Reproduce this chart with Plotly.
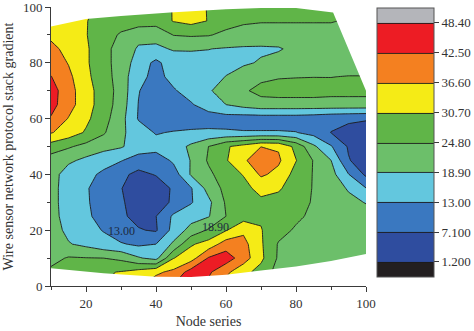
import plotly.graph_objects as go

# ---------------- data ----------------
node_series = [10, 15, 20, 25, 30, 35, 40, 45, 50, 55, 60, 65, 70, 75, 80, 85, 90, 95, 100]
stack_gradient = [0, 5, 10, 15, 20, 25, 30, 35, 40, 45, 50, 55, 60, 65, 70, 75, 80, 85, 90, 95, 100]

z_y0   = [27, 28, 29.5, 31, 33, 36, 40, 43, 47, 41, 34, 30, 25, 22.5, 22, 22, 22, 21.5, 21.5]
z_y5   = [26, 27, 28.5, 30, 31, 33, 35.5, 38, 45, 43.5, 38, 32.5, 28.5, 22.5, 22.5, 22, 22, 21.5, 21.5]
z_y10  = [23, 25.3, 25, 24.8, 23.5, 19.5, 17, 30.5, 34, 43, 45.5, 39.5, 32, 24, 23, 22.5, 22, 21.5, 21.5]
z_y15  = [22, 19.3, 17.5, 15, 13.5, 12, 13, 20, 30, 33, 39.5, 38.5, 31.5, 24.3, 23, 22.5, 22, 21.5, 21]
z_y20  = [21.5, 17.5, 15, 12.7, 9.5, 7.5, 6.5, 15, 21, 25.5, 30.3, 35.5, 31, 27, 24, 22.5, 21.5, 21, 20.5]
z_y25  = [21, 16.5, 14, 11, 8, 5.5, 7, 14, 16.5, 18.5, 24.8, 28, 30, 28, 26, 23.5, 22, 21.5, 20.5]
z_y30  = [21, 16, 13.8, 10, 7.8, 4.5, 4.5, 8, 12.5, 17.5, 25.5, 28.5, 29.5, 28.5, 27, 24.3, 21.5, 20, 18.7]
z_y35  = [21, 16, 13.5, 10.5, 7.3, 4, 3.5, 8, 12.5, 21, 26.5, 29, 32.5, 31.5, 27.5, 24.5, 21, 18.5, 13.2]
z_y40  = [21.5, 16, 14.5, 12, 8.5, 5.5, 7.5, 10, 19.5, 23.5, 28, 31, 37.5, 35, 28.5, 24.5, 21, 13.2, 6]
z_y45  = [22, 20, 17.5, 15, 13.3, 10.5, 9.5, 14, 19.2, 25.5, 30.2, 35.5, 41, 37.5, 30.9, 24.5, 19, 7.5, 4]
z_y50  = [28, 25.5, 23, 21, 19.5, 16, 15.5, 16, 20, 24.8, 30, 33, 36.5, 36, 29, 20, 13.5, 6.5, 3.5]
z_y55  = [37, 34, 30, 25.5, 20, 16, 12.5, 13.5, 14, 14, 13.8, 13.5, 13.5, 13.5, 13.2, 11, 7, 5.5, 4.5]
z_y60  = [42, 36.3, 32, 27, 21, 12.5, 8, 8.5, 9.5, 10.5, 10.5, 10, 10, 10, 10, 9.5, 8.5, 8, 7.6]
z_y65  = [44.5, 39, 33, 28, 22, 12.8, 9, 10, 12.5, 15.5, 18.9, 21, 22.5, 22.5, 22.5, 22.5, 22.5, 22.5, 22.5]
z_y70  = [45, 39, 33, 28, 22.5, 13.3, 9.5, 12.5, 15, 18.5, 20.5, 24, 26.5, 27, 27, 27, 26.5, 26.5, 26.5]
z_y75  = [42.7, 38, 32, 27.5, 22, 14.5, 11.5, 14.5, 16, 17.5, 19, 21, 23.5, 24.4, 24.6, 24.7, 24.7, 25, 25]
z_y80  = [40, 36.3, 31.5, 27, 22, 16.5, 11.5, 16.5, 17, 17.5, 17.8, 18.3, 19.3, 20.5, 22, 22, 22, 22, 22]
z_y85  = [38, 35, 31.5, 27, 22, 18.3, 18, 19.3, 19.3, 19, 18.5, 18.4, 18.3, 18.5, 20, 21, 21.5, 21.5, 21.5]
z_y90  = [35.5, 33, 31, 27, 24.2, 20.5, 20.5, 25, 25.5, 25.2, 23.5, 21.5, 21.5, 21.5, 21.5, 21.5, 21.5, 21.5, 21.5]
z_y95  = [34, 33, 31, 28, 27, 28, 27.5, 31, 32.5, 30.5, 27, 26, 25.3, 25.3, 25.3, 25.3, 25.3, 24, 23]
z_y100 = [36, 35, 32, 29, 28, 28, 28, 31, 32, 30.5, 28, 27, 27, 27, 27, 27, 27, 26, 25]

z_rows = [z_y0, z_y5, z_y10, z_y15, z_y20, z_y25, z_y30, z_y35, z_y40, z_y45, z_y50,
          z_y55, z_y60, z_y65, z_y70, z_y75, z_y80, z_y85, z_y90, z_y95, z_y100]

# boundary of the sampled region (outside is blank)
top_edge_x = [10, 20, 30, 44, 60, 70, 80, 90.6, 100]
top_edge_y = [93, 95.7, 96.8, 98, 99.2, 99.6, 99.6, 98, 70]
bottom_edge_x = [10, 25, 40, 50, 60, 70, 80, 90, 100]
bottom_edge_y = [6.4, 4.6, 3.3, 3.2, 4.0, 5.6, 7.0, 9.0, 11.5]

level_start, level_end, level_step = 1.2, 48.4, 5.9
level_ticks = [1.2, 7.1, 13.0, 18.9, 24.8, 30.7, 36.6, 42.5, 48.4]
level_labels = ["1.200", "7.100", "13.00", "18.90", "24.80", "30.70", "36.60", "42.50", "48.40"]

band_colors = ["#231f20", "#2f4d9f", "#3a78c0", "#63c7de", "#6cbf6a",
               "#60b548", "#f5eb16", "#f48020", "#ed1c24", "#b4b5ba"]

label_x = [30.1, 57.1]
label_y = [19.8, 21.3]
label_text = ["13.00", "18.90"]

# ---------------- figure ----------------
font_family = "Liberation Serif"
axis_color = "#3a3a3a"

colorscale = [[i / (len(band_colors) - 1), c] for i, c in enumerate(band_colors)]

fig = go.Figure()
fig.add_trace(go.Contour(
    x=node_series, y=stack_gradient, z=z_rows,
    contours=dict(start=level_start, end=level_end, size=level_step,
                  coloring="fill", showlines=True),
    line=dict(color="#1c1c1c", width=0.9, smoothing=0),
    colorscale=colorscale,
    hoverinfo="skip",
    colorbar=dict(
        tickvals=level_ticks, ticktext=level_labels,
        ticks="outside", ticklen=5, tickcolor=axis_color,
        tickfont=dict(family=font_family, size=13, color="#333"),
        ticklabeloverflow="allow",
        thickness=57, thicknessmode="pixels",
        len=269, lenmode="pixels",
        x=1.035, xanchor="left", y=0.997, yanchor="top",
        xpad=0, ypad=0,
        outlinewidth=1, outlinecolor="#555",
    ),
))

# white masks outside the sampled region
fig.add_trace(go.Scatter(
    x=top_edge_x + [101, 101, 9, 9], y=top_edge_y + [70, 101, 101, top_edge_y[0]],
    fill="toself", fillcolor="white", mode="none", hoverinfo="skip", showlegend=False))
fig.add_trace(go.Scatter(
    x=bottom_edge_x + [101, 101, 9, 9], y=bottom_edge_y + [bottom_edge_y[-1], -1, -1, bottom_edge_y[0]],
    fill="toself", fillcolor="white", mode="none", hoverinfo="skip", showlegend=False))

for lx, ly, lt in zip(label_x, label_y, label_text):
    fig.add_annotation(x=lx, y=ly, text=lt, showarrow=False,
                       font=dict(family=font_family, size=12, color="#1d2a40"))

axis_common = dict(
    showline=True, linecolor=axis_color, linewidth=1,
    ticks="outside", ticklen=5, tickwidth=1, tickcolor=axis_color,
    showgrid=False, zeroline=False, automargin=False,
    ticklabeloverflow="allow",
    tickfont=dict(family=font_family, size=13, color="#333"),
)

fig.update_xaxes(range=[10, 100], tickvals=[20, 40, 60, 80, 100],
                 minor=dict(tickvals=[10, 30, 50, 70, 90], ticks="outside", ticklen=3, tickcolor=axis_color),
                 title=dict(text="Node series", font=dict(family=font_family, size=14, color="#333"), standoff=6),
                 **axis_common)
fig.update_yaxes(range=[0, 100], tickvals=[0, 20, 40, 60, 80, 100],
                 minor=dict(tickvals=[10, 30, 50, 70, 90], ticks="outside", ticklen=3, tickcolor=axis_color),
                 title=dict(text="Wire sensor network protocol stack gradient",
                            font=dict(family=font_family, size=14, color="#333"), standoff=6),
                 **axis_common)

fig.update_layout(
    width=474, height=331,
    margin=dict(l=51, r=108, t=7, b=45, autoexpand=False),
    paper_bgcolor="white", plot_bgcolor="white",
    showlegend=False,
    font=dict(family=font_family),
)

fig.write_html("out.html")
